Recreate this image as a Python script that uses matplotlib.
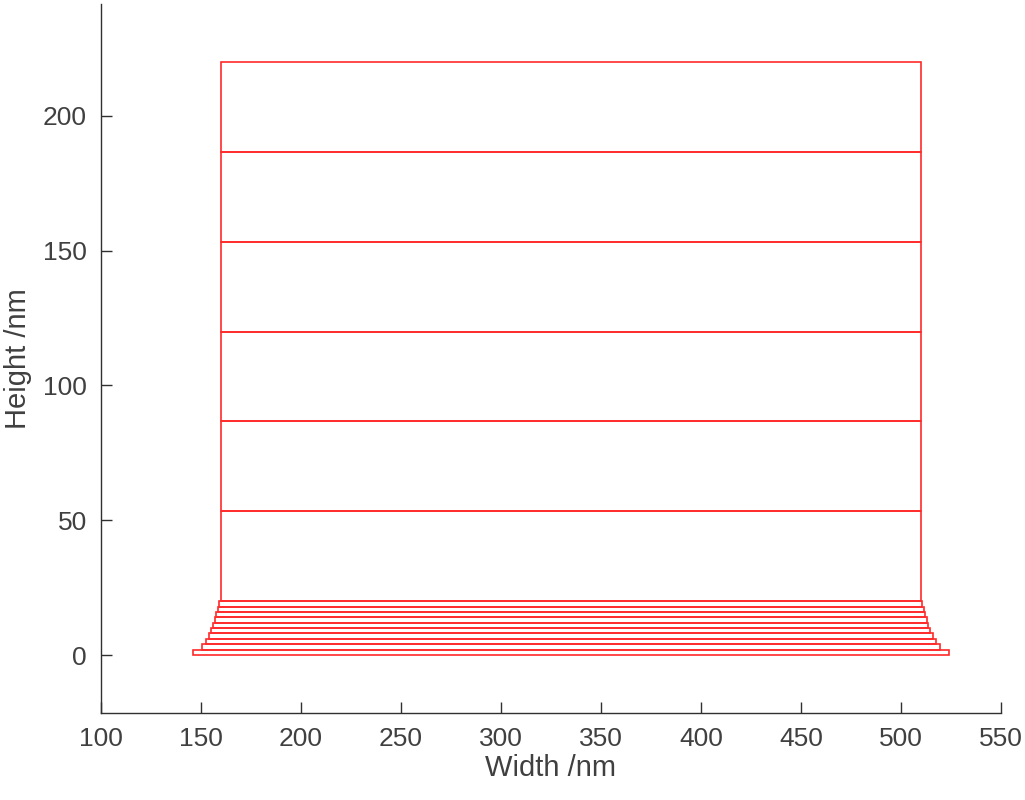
import matplotlib
matplotlib.use('Agg')
import matplotlib.pyplot as plt
from matplotlib.patches import Rectangle

plt.rcParams['font.family'] = ['Liberation Sans', 'DejaVu Sans']

# layer stack: bottom of each layer, thickness, width (nm)
center_x = 335
layer_bottom = [0, 2, 4, 6, 8, 10, 12, 14, 16, 18,
                20, 53.33, 86.67, 120, 153.33, 186.67]
layer_thick = [2, 2, 2, 2, 2, 2, 2, 2, 2, 2,
               33.33, 33.33, 33.33, 33.33, 33.33, 33.33]
layer_width = [378, 369, 365, 362, 359.5, 357.5, 356, 354.5, 353, 351.5,
               350, 350, 350, 350, 350, 350]

xticks = [100, 150, 200, 250, 300, 350, 400, 450, 500, 550]
yticks = [0, 50, 100, 150, 200]

fig = plt.figure(figsize=(10.25, 8), dpi=100)
ax = fig.add_axes([0.0985, 0.10875, 0.878, 0.88625])

for b, t, w in zip(layer_bottom, layer_thick, layer_width):
    ax.add_patch(Rectangle((center_x - w / 2, b), w, t, fill=False,
                           edgecolor='#ff2a2a', linewidth=1.2))

ax.set_xlim(100, 550)
ax.set_ylim(-21.5, 241.5)
ax.set_xticks(xticks)
ax.set_yticks(yticks)

axcol = '#303030'
txtcol = '#404040'
for side in ['top', 'right']:
    ax.spines[side].set_visible(False)
for side in ['left', 'bottom']:
    ax.spines[side].set_color(axcol)
    ax.spines[side].set_linewidth(1.0)
ax.tick_params(direction='in', length=8, width=1.0, colors=axcol,
               labelcolor=txtcol, labelsize=19, pad=10)

ax.set_xlabel('Width /nm', fontsize=21, color=txtcol, labelpad=2)
ax.set_ylabel('Height /nm', fontsize=21, color=txtcol, labelpad=8)

fig.savefig('out.png', dpi=100)
